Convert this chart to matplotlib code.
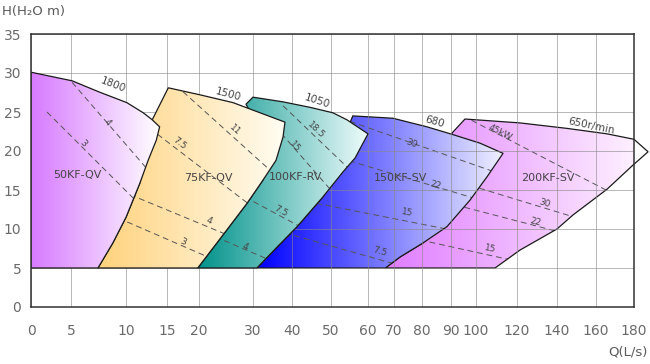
import numpy as np
import matplotlib
matplotlib.use("Agg")
import matplotlib.pyplot as plt
from matplotlib.patches import Polygon
from matplotlib.colors import LinearSegmentedColormap

# axis ticks (the Q axis is drawn on an uneven, piecewise scale)
q_ticks = [0, 5, 10, 15, 20, 30, 40, 50, 60, 70, 80, 90, 100, 120, 140, 160, 180]
h_ticks = [0, 5, 10, 15, 20, 25, 30, 35]

# pump regions: outline (Q in L/s, H in m), listed right to left
sv200_q = [90.4, 95.6, 121.5, 145.1, 165.8, 180.0, 187.4, 179.5, 165.8, 148.2, 140.0,
           121.5, 109.3, 66.7, 72.1, 80.3, 86.2, 91.6]
sv200_h = [22.3, 24.1, 23.6, 22.9, 22.2, 21.5, 19.9, 18.2, 15.1, 11.8, 10.0,
           7.3, 5.0, 5.0, 6.4, 8.2, 11.8, 17.6]

sv150_q = [55.1, 55.9, 69.6, 81.7, 90.8, 102.0, 113.2, 105.4, 97.6, 88.6, 80.3,
           72.1, 66.7, 31.0, 41.3, 47.9, 52.4, 54.6]
sv150_h = [23.6, 24.5, 24.2, 23.1, 22.1, 21.0, 19.7, 16.7, 13.7, 10.3, 8.2,
           6.4, 5.0, 5.0, 10.3, 14.1, 17.6, 21.4]

rv100_q = [28.7, 30.0, 37.7, 44.6, 50.5, 54.3, 60.0, 56.5, 53.2, 47.9, 41.3,
           36.2, 31.0, 19.8, 24.4, 28.9, 32.6, 34.4, 30.5]
rv100_h = [26.0, 26.9, 26.3, 25.6, 24.9, 24.0, 22.2, 19.1, 17.3, 14.1, 10.3,
           7.7, 5.0, 5.0, 9.2, 13.3, 16.3, 20.1, 24.0]

qv75_q = [15.2, 20.2, 26.3, 31.8, 38.2, 37.7, 35.9, 32.6, 28.9, 24.4, 19.8,
          7.45, 8.8, 10.0, 11.7, 12.9, 13.2]
qv75_h = [28.1, 27.2, 26.2, 24.9, 23.7, 21.8, 18.8, 16.3, 13.3, 9.2, 5.0,
          5.0, 8.2, 11.5, 15.9, 21.4, 24.0]

qv50_q = [0.0, 5.1, 7.5, 10.1, 12.1, 13.2, 14.1, 13.7, 12.7, 11.7, 10.0, 8.8, 7.45, 0.0]
qv50_h = [30.1, 29.0, 27.6, 26.2, 24.9, 24.0, 23.1, 21.4, 18.8, 15.9, 11.5, 8.2, 5.0, 5.0]

# power lines: label, (Q0, Q1), (H0, H1), label position
sv200_pw = [("45kW", (94.8, 168.4), (24.5, 14.6), (111.7, 22.4)),
            ("30", (97.6, 150.5), (15.6, 11.4), (134.0, 13.3)),
            ("22", (91.6, 141.5), (13.1, 9.6), (129.0, 10.9)),
            ("15", (79.3, 117.6), (8.6, 6.0), (106.8, 7.4))]
sv150_pw = [("30", (55.1, 109.3), (23.8, 17.3), (76.4, 21.0)),
            ("22", (52.4, 101.0), (19.1, 13.8), (84.5, 15.6)),
            ("15", (46.2, 89.7), (13.3, 9.9), (74.6, 12.1)),
            ("7.5", (38.2, 70.4), (9.5, 5.5), (64.6, 7.1))]
rv100_pw = [("18.5", (37.7, 55.1), (25.8, 17.6), (46.2, 22.7)),
            ("15", (35.6, 50.5), (23.2, 14.7), (40.8, 20.6)),
            ("7.5", (28.5, 42.1), (14.1, 10.3), (37.2, 12.3)),
            ("4", (23.0, 34.4), (9.0, 6.0), (28.5, 7.7))]
qv75_pw = [("11", (17.5, 34.9), (27.6, 17.3), (26.7, 22.7)),
           ("7.5", (12.9, 29.4), (22.9, 13.1), (16.9, 21.0)),
           ("4", (10.5, 25.4), (14.4, 9.2), (21.9, 11.0)),
           ("3", (9.3, 21.7), (11.4, 6.4), (17.5, 8.3))]
qv50_pw = [("4", (5.1, 12.9), (28.8, 17.3), (8.3, 23.7)),
           ("3", (2.0, 11.7), (25.0, 13.1), (6.1, 21.0))]

# speed labels and model names
speeds = ["1800", "1500", "1050", "680", "650r/min"]
speed_q = [8.8, 25.4, 46.4, 84.5, 157.4]
speed_h = [28.5, 27.3, 26.4, 23.7, 23.2]
speed_rot = [-21, -15, -18, -16, -12]
models = ["50KF-QV", "75KF-QV", "100KF-RV", "150KF-SV", "200KF-SV"]
model_q = [5.6, 21.7, 40.8, 72.5, 135.5]
model_h = [16.9, 16.5, 16.7, 16.5, 16.5]

# scale anchors: Q value -> position along the axis
anchor_q = [-100] + q_ticks + [400]
anchor_p = [-800, 0, 40, 95, 136, 168, 222, 261, 300, 337, 363, 391, 420, 445, 486,
            526, 565, 603, 1021]


def fwd(q):
    return np.interp(q, anchor_q, anchor_p)


def inv(p):
    return np.interp(p, anchor_p, anchor_q)


fig = plt.figure(figsize=(6.5, 3.64), dpi=100)
ax = fig.add_axes([31 / 650, 1 - 307 / 364, 603 / 650, 273 / 364])
ax.set_xscale("function", functions=(fwd, inv))
ax.set_xlim(0, 180)
ax.set_ylim(0, 35)
ax.set_autoscale_on(False)
ax.set_xticks(q_ticks)
ax.set_xticklabels([str(v) for v in q_ticks])
ax.set_yticks(h_ticks)
ax.minorticks_off()
ax.tick_params(length=0, labelsize=10, labelcolor="#6a6a6a")
ax.tick_params(axis="x", pad=12)
ax.tick_params(axis="y", pad=7)
ax.grid(True, color="#888888", alpha=0.6, lw=0.7, zorder=10)
ax.set_axisbelow(False)
for s in ax.spines.values():
    s.set_color("#333333")
    s.set_linewidth(1.1)
    s.set_zorder(12)


def angle_of(qs, hs):
    p = ax.transData.transform(np.column_stack([qs, hs]))
    return np.degrees(np.arctan2(p[1, 1] - p[0, 1], p[1, 0] - p[0, 0]))


def draw_pump(qs, hs, c_left, c_right, lines, z):
    poly = Polygon(np.column_stack([qs, hs]), closed=True, fc="none",
                   ec="#1a1a1a", lw=0.9, zorder=z + 0.3)
    ax.add_patch(poly)
    pts = ax.transAxes.inverted().transform(
        ax.transData.transform(np.column_stack([qs, hs])))
    x0, x1 = pts[:, 0].min(), pts[:, 0].max()
    y0, y1 = pts[:, 1].min(), pts[:, 1].max()
    cmap = LinearSegmentedColormap.from_list("g", [c_left, c_right])
    img = ax.imshow(np.linspace(0, 1, 256)[None, :], cmap=cmap, aspect="auto",
                    extent=[x0, x1, y0, y1], transform=ax.transAxes,
                    interpolation="bilinear", zorder=z)
    img.set_clip_path(poly)
    for lab, lq, lh, pos in lines:
        ln, = ax.plot(lq, lh, ls=(0, (6, 4)), color="#555555", lw=0.7, zorder=z + 0.1)
        ln.set_clip_path(poly)
        ax.text(pos[0], pos[1], lab, fontsize=6.5, color="#444444",
                rotation=angle_of(lq, lh), rotation_mode="anchor",
                ha="center", va="center", zorder=z + 0.2)


draw_pump(sv200_q, sv200_h, "#e07cff", "#fff6ff", sv200_pw, 1)
draw_pump(sv150_q, sv150_h, "#0000ff", "#f0f0ff", sv150_pw, 2)
draw_pump(rv100_q, rv100_h, "#00928a", "#effcfc", rv100_pw, 3)
draw_pump(qv75_q, qv75_h, "#ffd27c", "#fffdf3", qv75_pw, 4)
draw_pump(qv50_q, qv50_h, "#d77aff", "#ffffff", qv50_pw, 5)

# the 650 r/min curve runs past the right frame
ax.patches[0].set_clip_on(False)

for t, q, h, r in zip(speeds, speed_q, speed_h, speed_rot):
    ax.text(q, h, t, fontsize=7.5, color="#444444", rotation=r,
            ha="center", va="center", zorder=11)
for t, q, h in zip(models, model_q, model_h):
    ax.text(q, h, t, fontsize=8, color="#444444", ha="center", va="center", zorder=11)

fig.text(2 / 650, 1 - 12 / 364, "H(H₂O m)", fontsize=9.5, color="#5a5a5a",
         ha="left", va="center")
fig.text(648 / 650, 1 - 352 / 364, "Q(L/s)", fontsize=9.5, color="#5a5a5a",
         ha="right", va="center")

fig.savefig("out.png", dpi=100)
